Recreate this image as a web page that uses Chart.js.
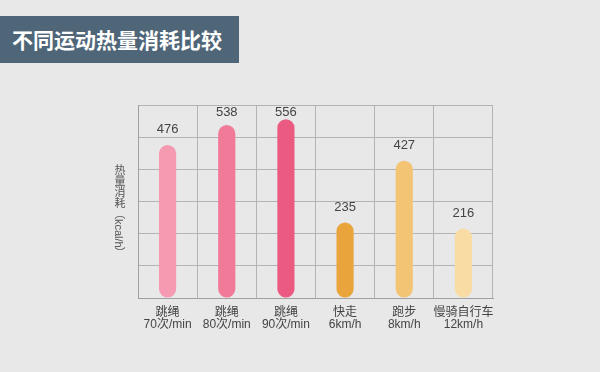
<!DOCTYPE html>
<html>
<head>
<meta charset="utf-8">
<script src="https://cdn.jsdelivr.net/npm/chart.js@4"></script>
<style>
  body { margin: 0; background: #e8e8e8; }
  #wrap { position: relative; width: 600px; height: 372px; overflow: hidden; }
  #title {
    position: absolute; left: 0; top: 16px; width: 239px; height: 47px;
    background: #4f6679; color: #fff; font: bold 21px "Noto Sans CJK SC", sans-serif;
    line-height: 47px; padding-left: 12px; box-sizing: border-box;
  }
  #ytitle {
    position: absolute; left: 111px; top: 164px; writing-mode: vertical-rl;
    font: 11px "Liberation Sans", "Noto Sans CJK SC", sans-serif; color: #555;
  }
  canvas { position: absolute; left: 0; top: 0; }
</style>
</head>
<body>
<div id="wrap">
  <canvas id="myChart" width="600" height="372"></canvas>
  <div id="title">不同运动热量消耗比较</div>
  <div id="ytitle">热量消耗（kcal/h）</div>
</div>
<script>
const labels = [
  ['跳绳', '70次/min'],
  ['跳绳', '80次/min'],
  ['跳绳', '90次/min'],
  ['快走', '6km/h'],
  ['跑步', '8km/h'],
  ['慢骑自行车', '12km/h']
];
const calories = [476, 538, 556, 235, 427, 216];
const barColors = ['#f59ab0', '#f07a98', '#eb5a81', '#e9a53c', '#f3c474', '#f8dca3'];

const font = '"Liberation Sans", "Noto Sans CJK SC", sans-serif';

// value labels above each bar, kept inside the top of the grid
const valueLabels = {
  id: 'valueLabels',
  afterDatasetsDraw(chart) {
    const ctx = chart.ctx;
    ctx.save();
    ctx.font = '13px ' + font;
    ctx.fillStyle = '#444';
    ctx.textAlign = 'center';
    ctx.textBaseline = 'middle';
    chart.getDatasetMeta(0).data.forEach((bar, i) => {
      const y = Math.max(bar.y - 15, chart.chartArea.top + 7);
      ctx.fillText(calories[i], bar.x, y);
    });
    ctx.restore();
  }
};

const ctx = document.getElementById('myChart');

new Chart(ctx, {
  type: 'bar',
  data: {
    labels: labels,
    datasets: [{
      data: calories,
      backgroundColor: barColors,
      borderRadius: 9,
      borderSkipped: false,
      barPercentage: 0.29,
      categoryPercentage: 1
    }]
  },
  options: {
    responsive: false,
    animation: false,
    layout: { padding: { left: 138, right: 107, top: 105, bottom: 0 } },
    plugins: { legend: { display: false }, tooltip: { enabled: false } },
    scales: {
      y: {
        min: 0, max: 600,
        ticks: { display: false, stepSize: 100 },
        grid: { color: '#b3b3b3', drawTicks: false },
        border: { color: '#a0a0a0' },
        afterFit(axis) { axis.width = 0; }
      },
      x: {
        ticks: { color: '#444', font: { size: 12, family: font, lineHeight: 1.0 }, padding: 9, maxRotation: 0, autoSkip: false },
        grid: { color: '#b3b3b3', drawTicks: false },
        border: { color: '#a0a0a0' },
        afterFit(axis) { axis.height = 74; }
      }
    }
  },
  plugins: [valueLabels]
});
</script>
</body>
</html>
